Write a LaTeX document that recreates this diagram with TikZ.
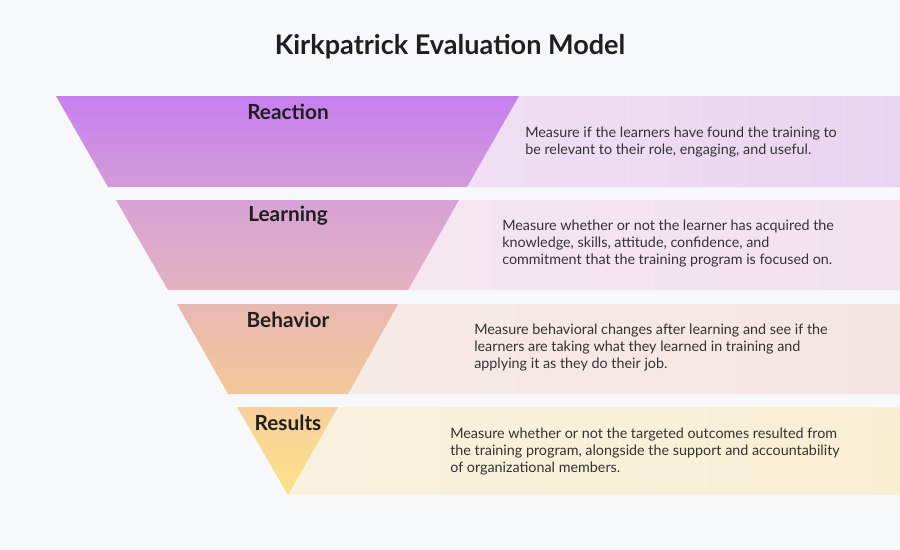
\documentclass[tikz,border=0pt]{standalone}
\usepackage{fontspec}
\setmainfont{Lato}
\begin{document}
\begin{tikzpicture}[x=0.75pt,y=-0.75pt,
  lbl/.style={font=\fontsize{15.6}{18}\selectfont\bfseries, text=black!88},
  desc/.style={font=\fontsize{10.75}{12.75}\selectfont, text=black!80, align=left, anchor=north west, inner sep=0pt},
  tit/.style={font=\fontsize{20.3}{24}\selectfont\bfseries, text=black!88}]
\fill[fill={rgb,255:red,247;green,248;blue,250}] (0,0) rectangle (900,550);
\useasboundingbox (0,0) rectangle (900,550);
\node[tit] (title) at (450,47) {Kirkpatrick Evaluation Model};
\definecolor{aT}{HTML}{C77FEF}\definecolor{aB}{HTML}{D39BD8}
\definecolor{bT}{HTML}{D8A1D7}\definecolor{bB}{HTML}{E3B1BD}
\definecolor{cT}{HTML}{E8B8B2}\definecolor{cB}{HTML}{F3C898}
\definecolor{dT}{HTML}{F6D09C}\definecolor{dB}{HTML}{FDE287}
\definecolor{aL}{HTML}{F0E0F3}\definecolor{aR}{HTML}{E9D4EF}
\definecolor{bL}{HTML}{F4E6EF}\definecolor{bR}{HTML}{F1E2EE}
\definecolor{cL}{HTML}{F6EAE6}\definecolor{cR}{HTML}{F4E5E1}
\definecolor{dL}{HTML}{F8F1DE}\definecolor{dR}{HTML}{F8EFD3}
% bands
\shade[left color=aL,right color=aR] (519,96) -- (900,96) -- (900,187) -- (467,187) -- cycle;
\shade[left color=bL,right color=bR] (459,200) -- (900,200) -- (900,290) -- (408,290) -- cycle;
\shade[left color=cL,right color=cR] (398,304) -- (900,304) -- (900,394) -- (348,394) -- cycle;
\shade[left color=dL,right color=dR] (338,407) -- (900,407) -- (900,495) -- (288,495) -- cycle;
% funnel
\shade[top color=aT,bottom color=aB] (56,96) -- (519,96) -- (467,187) -- (108,187) -- cycle;
\shade[top color=bT,bottom color=bB] (116,200) -- (459,200) -- (408,290) -- (168,290) -- cycle;
\shade[top color=cT,bottom color=cB] (177,304) -- (398,304) -- (348,394) -- (228,394) -- cycle;
\shade[top color=dT,bottom color=dB] (237,407) -- (338,407) -- (288,495) -- cycle;
\node[lbl] (l1) at (288,112) {Reaction};
\node[lbl] (l2) at (288,216) {Learning};
\node[lbl] (l3) at (288,320) {Behavior};
\node[lbl] (l4) at (288,423) {Results};
\node[desc] (d1) at (525,127) {Measure if the learners have found the training to\\be relevant to their role, engaging, and useful.};
\node[desc] (d2) at (502,220) {Measure whether or not the learner has acquired the\\knowledge, skills, attitude, confidence, and\\commitment that the training program is focused on.};
\node[desc] (d3) at (474,324) {Measure behavioral changes after learning and see if the\\learners are taking what they learned in training and\\applying it as they do their job.};
\node[desc] (d4) at (450,428) {Measure whether or not the targeted outcomes resulted from\\the training program, alongside the support and accountability\\of organizational members.};
\end{tikzpicture}
\end{document}
